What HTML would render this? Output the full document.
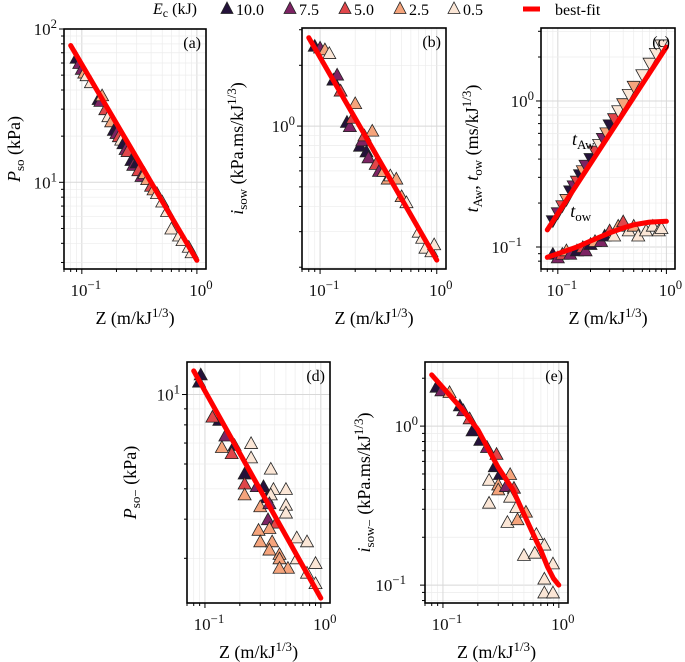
<!DOCTYPE html>
<html><head><meta charset="utf-8"><style>
body{margin:0;background:#fff;}
svg{display:block;font-family:"Liberation Serif","DejaVu Serif",serif;}
</style></head><body>
<svg id="fig" width="685" height="662" viewBox="0 0 685 662" xmlns="http://www.w3.org/2000/svg">
<g id="legend"></g>
</svg>
<script>
// ---- data: [Z, value, energyIndex] (0=10.0,1=7.5,2=5.0,3=2.5,4=0.5) ----
const energyLabels = ["10.0","7.5","5.0","2.5","0.5"];
const energyColors = ["#24123a","#7d2363","#e0464a","#f5a47c","#fbe6d6"];

const aPoints = [[0.09,65,0],[0.095,60,1],[0.1,55,1],[0.105,52,3],[0.11,50,4],[0.12,45,4],[0.14,35,0],[0.145,34,1],[0.15,37,3],[0.16,30,2],[0.17,27,4],[0.18,25,3],[0.19,22,0],[0.2,21,1],[0.21,20,2],[0.22,19,4],[0.23,18,0],[0.24,16.5,1],[0.25,16,2],[0.27,14,0],[0.28,13,1],[0.3,13.5,0],[0.31,12,2],[0.33,11,1],[0.35,11.5,3],[0.37,10.5,3],[0.4,9.5,2],[0.42,9,3],[0.45,8.5,4],[0.5,7.5,4],[0.55,6.5,4],[0.6,5,4],[0.7,4.5,4],[0.75,4.2,4],[0.85,3.8,4],[0.9,3.5,4]];
const aFitZ = [0.08,1.0];
const aFitV = [78,3.1];

const bPoints = [[0.09,2.5,0],[0.1,2.45,1],[0.11,2.4,3],[0.12,2.3,4],[0.13,1.7,0],[0.14,1.8,1],[0.15,1.5,2],[0.17,1.05,0],[0.18,1.0,1],[0.19,1.1,2],[0.2,1.3,3],[0.22,0.8,0],[0.23,0.85,1],[0.24,0.9,2],[0.25,0.75,0],[0.26,0.7,1],[0.28,0.95,3],[0.3,0.65,2],[0.32,0.6,1],[0.35,0.6,3],[0.38,0.55,3],[0.4,0.57,4],[0.45,0.55,3],[0.5,0.45,3],[0.55,0.42,4],[0.7,0.3,4],[0.75,0.28,4],[0.8,0.25,4],[0.9,0.24,4],[0.95,0.26,4]];
const bFitZ = [0.08,1.0];
const bFitV = [2.74,0.217];

const cAwPoints = [[0.09,0.15,0],[0.1,0.17,1],[0.11,0.19,2],[0.12,0.21,3],[0.13,0.24,0],[0.14,0.26,1],[0.15,0.28,2],[0.16,0.31,0],[0.17,0.33,3],[0.18,0.36,1],[0.2,0.4,0],[0.22,0.45,2],[0.24,0.5,4],[0.26,0.55,1],[0.28,0.6,3],[0.3,0.68,0],[0.33,0.75,2],[0.36,0.85,4],[0.4,0.95,3],[0.45,1.1,4],[0.5,1.25,3],[0.6,1.5,4],[0.7,1.8,4],[0.8,2.1,4],[0.9,2.4,4]];
const cOwPoints = [[0.09,0.09,0],[0.1,0.085,1],[0.11,0.09,2],[0.12,0.095,3],[0.13,0.09,1],[0.15,0.095,0],[0.17,0.1,2],[0.18,0.095,1],[0.2,0.105,0],[0.22,0.11,3],[0.25,0.11,1],[0.27,0.12,0],[0.3,0.13,2],[0.33,0.12,4],[0.36,0.14,3],[0.4,0.15,2],[0.45,0.13,4],[0.5,0.14,3],[0.55,0.12,4],[0.65,0.13,4],[0.75,0.14,4],[0.85,0.13,4],[0.9,0.135,4]];
const cAwFitZ = [0.08,1.0];
const cAwFitV = [0.131,2.34];
const cOwFitZ = [0.08,0.1,0.15,0.2,0.3,0.4,0.5,0.7,1.0];
const cOwFitV = [0.085,0.09,0.1,0.11,0.125,0.135,0.142,0.148,0.15];

const dPoints = [[0.089,11,0],[0.092,11.6,0],[0.133,8.3,0],[0.116,8.5,2],[0.15,7.4,1],[0.14,6.8,3],[0.18,6.9,0],[0.17,6.5,2],[0.25,7,4],[0.25,6.3,4],[0.22,5.6,0],[0.22,5.2,2],[0.22,4.8,3],[0.28,5.1,1],[0.32,5.1,0],[0.34,4.7,0],[0.37,5.8,4],[0.39,5.0,4],[0.37,4.8,4],[0.5,5.0,4],[0.5,4.45,4],[0.5,4.2,4],[0.3,4.4,3],[0.36,4.5,1],[0.35,4.0,1],[0.41,3.9,2],[0.36,3.75,3],[0.29,3.7,3],[0.3,3.4,3],[0.38,3.4,3],[0.36,3.2,3],[0.44,3.1,3],[0.44,3.0,3],[0.52,2.8,3],[0.44,2.8,3],[0.62,3.5,4],[0.76,3.4,4],[0.62,3.0,4],[0.9,2.9,4],[0.76,2.7,4],[0.9,2.5,4]];
const dFitZ = [0.08,1.0];
const dFitV = [11.9,2.24];

const ePoints = [[0.088,1.77,0],[0.097,1.68,1],[0.114,1.64,3],[0.14,1.35,0],[0.15,1.26,1],[0.17,1.12,2],[0.18,0.94,0],[0.21,0.82,0],[0.24,0.74,1],[0.29,0.67,2],[0.28,0.56,0],[0.31,0.5,0],[0.25,0.46,4],[0.25,0.33,4],[0.3,0.43,3],[0.3,0.40,3],[0.35,0.42,1],[0.38,0.5,3],[0.41,0.41,2],[0.38,0.36,4],[0.43,0.31,4],[0.36,0.25,4],[0.44,0.26,3],[0.52,0.29,3],[0.64,0.21,4],[0.75,0.18,4],[0.5,0.155,4],[0.62,0.16,4],[0.89,0.137,4],[0.75,0.11,4],[0.75,0.09,4],[0.89,0.09,4]];
const eFitZ = [0.08,0.1,0.15,0.2,0.3,0.4,0.5,0.6,0.7,0.8,0.9,1.0];
const eFitV = [2.1,1.75,1.25,0.95,0.55,0.40,0.28,0.21,0.165,0.13,0.11,0.1];

const NS = "http://www.w3.org/2000/svg";
const svg = document.getElementById('fig');
function mk(tag, attrs, parent){const e=document.createElementNS(NS,tag);for(const k in attrs)e.setAttribute(k,attrs[k]);(parent||svg).appendChild(e);return e;}
function logScale(d0,d1,p0,p1){const l0=Math.log10(d0),l1=Math.log10(d1);return v=>p0+(Math.log10(v)-l0)/(l1-l0)*(p1-p0);}
function supText(parent,x,y,base,sup,anchor,size,name){
  const t=mk('text',{x:x,y:y,'text-anchor':anchor,'font-size':size,fill:'#111'},parent);
  
  
  t.appendChild(document.createTextNode(base));
  const s=mk('tspan',{dy:-7,'font-size':size*0.75},t);s.textContent=sup;return t;
}

function panel(cfg){
  const g=mk('g',{});
  
  
  const X=logScale(cfg.xd[0],cfg.xd[1],cfg.l,cfg.r);
  const Y=logScale(cfg.yd[0],cfg.yd[1],cfg.b,cfg.t);
  const clipId='clip-'+cfg.name;
  const cp=mk('clipPath',{id:clipId},g);mk('rect',{x:cfg.l,y:cfg.t,width:cfg.r-cfg.l,height:cfg.b-cfg.t},cp);
  const grid=mk('g',{'clip-path':'url(#'+clipId+')'},g);
  
  
  for(let e=-3;e<=3;e++)for(let m=1;m<=9;m++){
    const v=m*Math.pow(10,e);
    if(v>=cfg.xd[0]&&v<=cfg.xd[1]){const x=X(v);mk('line',{x1:x,x2:x,y1:cfg.t,y2:cfg.b,stroke:m==1?'#d8d8d8':'#ececec','stroke-width':m==1?1:0.7},grid);}
    if(v>=cfg.yd[0]&&v<=cfg.yd[1]){const y=Y(v);mk('line',{x1:cfg.l,x2:cfg.r,y1:y,y2:y,stroke:m==1?'#d8d8d8':'#ececec','stroke-width':m==1?1:0.7},grid);}
  }
  for(let e=-3;e<=3;e++)for(let m=1;m<=9;m++){
    const v=m*Math.pow(10,e);
    if(v>=cfg.xd[0]&&v<=cfg.xd[1]){const x=X(v);mk('line',{x1:x,x2:x,y1:cfg.b,y2:cfg.b+(m==1?5:3),stroke:'#000','stroke-width':1},g);
      if(m==1){supText(g,x+4,cfg.b+27,'10',String(e).replace('-','−'),'middle',17,'x-tick-label');}}
    if(v>=cfg.yd[0]&&v<=cfg.yd[1]){const y=Y(v);mk('line',{x1:cfg.l,x2:cfg.l-(m==1?5:3),y1:y,y2:y,stroke:'#000','stroke-width':1},g);
      if(m==1){supText(g,cfg.l-7-(e<0?12:0),y+6,'10',String(e).replace('-','−'),'end',17,'y-tick-label');}}
  }
  const data=mk('g',{'clip-path':'url(#'+clipId+')'},g);
  
  
  function tri(z,v,ci,down){
    const x=X(z),y=Y(v),s=6.5;
    const pts=down?[[x-s,y-s*0.85],[x+s,y-s*0.85],[x,y+s*0.95]]:[[x-s,y+s*0.85],[x+s,y+s*0.85],[x,y-s*0.95]];
    const p=mk('polygon',{points:pts.map(q=>q.join(',')).join(' '),fill:energyColors[ci],stroke:'#222','stroke-width':0.8},data);
    
    
  }
  function fit(zs,vs){
    const d=zs.map((z,i)=>(i?'L':'M')+X(z).toFixed(1)+','+Y(vs[i]).toFixed(1)).join(' ');
    const p=mk('path',{d:d,fill:'none',stroke:'#ff0000','stroke-width':5,'stroke-linecap':'round','stroke-linejoin':'round'},data);
    
    
  }
  cfg.series.forEach(s=>{s.pts.forEach(p=>tri(p[0],p[1],p[2],s.down));});
  cfg.fits.forEach(f=>fit(f[0],f[1]));
  const fr=mk('rect',{x:cfg.l,y:cfg.t,width:cfg.r-cfg.l,height:cfg.b-cfg.t,fill:'none',stroke:'#000','stroke-width':1.6},g);
  
  
  const pl=mk('text',{x:cfg.r-5,y:cfg.t+19,'text-anchor':'end','font-size':16},g);pl.textContent=cfg.tag;
  
  
  const xl=mk('text',{x:(cfg.l+cfg.r)/2,y:cfg.b+55,'text-anchor':'middle','font-size':18},g);
  
  
  xl.appendChild(document.createTextNode('Z (m/kJ'));
  const xs=mk('tspan',{dy:-7,'font-size':13},xl);xs.textContent='1/3';
  const xc=mk('tspan',{dy:7},xl);xc.textContent=')';
  const yl=mk('text',{transform:'translate('+cfg.ylx+','+((cfg.t+cfg.b)/2)+') rotate(-90)','text-anchor':'middle','font-size':18},g);
  
  
  yl.innerHTML=cfg.ylabel;
  (cfg.extra||[]).forEach(t=>{const e=mk('text',{x:X(t[0]),y:Y(t[1]),'font-size':18,'font-style':'italic'},g);e.innerHTML=t[2];
    
    });
}
const XD=[0.07,1.2];
const SUB='font-size="13"';
panel({name:'panel-a',tag:'(a)',l:64,r:206,t:29,b:269,xd:XD,yd:[2.72,100],ylx:20,
  ylabel:'<tspan font-style="italic">P</tspan><tspan '+SUB+' dy="4">so</tspan><tspan dy="-4"> (kPa)</tspan>',
  series:[{pts:aPoints}],fits:[[aFitZ,aFitV]]});
panel({name:'panel-b',tag:'(b)',l:302,r:446,t:28,b:269,xd:XD,yd:[0.196,3.06],ylx:243,
  ylabel:'<tspan font-style="italic">i</tspan><tspan '+SUB+' dy="4">sow</tspan><tspan dy="-4"> (kPa.ms/kJ</tspan><tspan '+SUB+' dy="-7">1/3</tspan><tspan dy="7">)</tspan>',
  series:[{pts:bPoints}],fits:[[bFitZ,bFitV]]});
panel({name:'panel-c',tag:'(c)',l:541,r:675,t:28,b:269,xd:XD,yd:[0.0707,3.16],ylx:478,
  ylabel:'<tspan font-style="italic">t</tspan><tspan '+SUB+' dy="4">Aw</tspan><tspan dy="-4">, </tspan><tspan font-style="italic">t</tspan><tspan '+SUB+' dy="4">ow</tspan><tspan dy="-4"> (ms/kJ</tspan><tspan '+SUB+' dy="-7">1/3</tspan><tspan dy="7">)</tspan>',
  series:[{pts:cAwPoints,down:true},{pts:cOwPoints}],fits:[[cAwFitZ,cAwFitV],[cOwFitZ,cOwFitV]],
  extra:[[0.135,0.5,'t<tspan font-size="13" font-style="normal" dy="4">Aw</tspan>'],[0.13,0.16,'t<tspan font-size="13" font-style="normal" dy="4">ow</tspan>']]});
panel({name:'panel-d',tag:'(d)',l:187,r:330,t:362,b:603,xd:XD,yd:[2.16,12.7],ylx:136,
  ylabel:'<tspan font-style="italic">P</tspan><tspan '+SUB+' dy="4">so−</tspan><tspan dy="-4"> (kPa)</tspan>',
  series:[{pts:dPoints}],fits:[[dFitZ,dFitV]]});
panel({name:'panel-e',tag:'(e)',l:425,r:568,t:362,b:603,xd:XD,yd:[0.0772,2.53],ylx:370,
  ylabel:'<tspan font-style="italic">i</tspan><tspan '+SUB+' dy="4">sow−</tspan><tspan dy="-4"> (kPa.ms/kJ</tspan><tspan '+SUB+' dy="-7">1/3</tspan><tspan dy="7">)</tspan>',
  series:[{pts:ePoints}],fits:[[eFitZ,eFitV]]});

const lg=document.getElementById('legend');
const lt=mk('text',{x:153,y:14,'font-size':16},lg);
lt.innerHTML='<tspan font-style="italic">E</tspan><tspan font-size="12" dy="3">c</tspan><tspan dy="-3">  (kJ)</tspan>';


const legX=[227,290,345,400,454];
energyLabels.forEach((lab,i)=>{
  const g=mk('g',{},lg);
  
  
  const x=legX[i],y=8;
  mk('polygon',{points:`${x-6},${y+5.5} ${x+6},${y+5.5} ${x},${y-6}`,fill:energyColors[i],stroke:'#222','stroke-width':0.8},g);
  const t=mk('text',{x:x+9,y:15,'font-size':16},g);t.textContent=lab;
});
const lf=mk('g',{},lg);


mk('line',{x1:523,x2:540,y1:9,y2:9,stroke:'#ff0000','stroke-width':5},lf);
const lft=mk('text',{x:555,y:15,'font-size':16},lf);lft.textContent='best-fit';
</script>
</body></html>
